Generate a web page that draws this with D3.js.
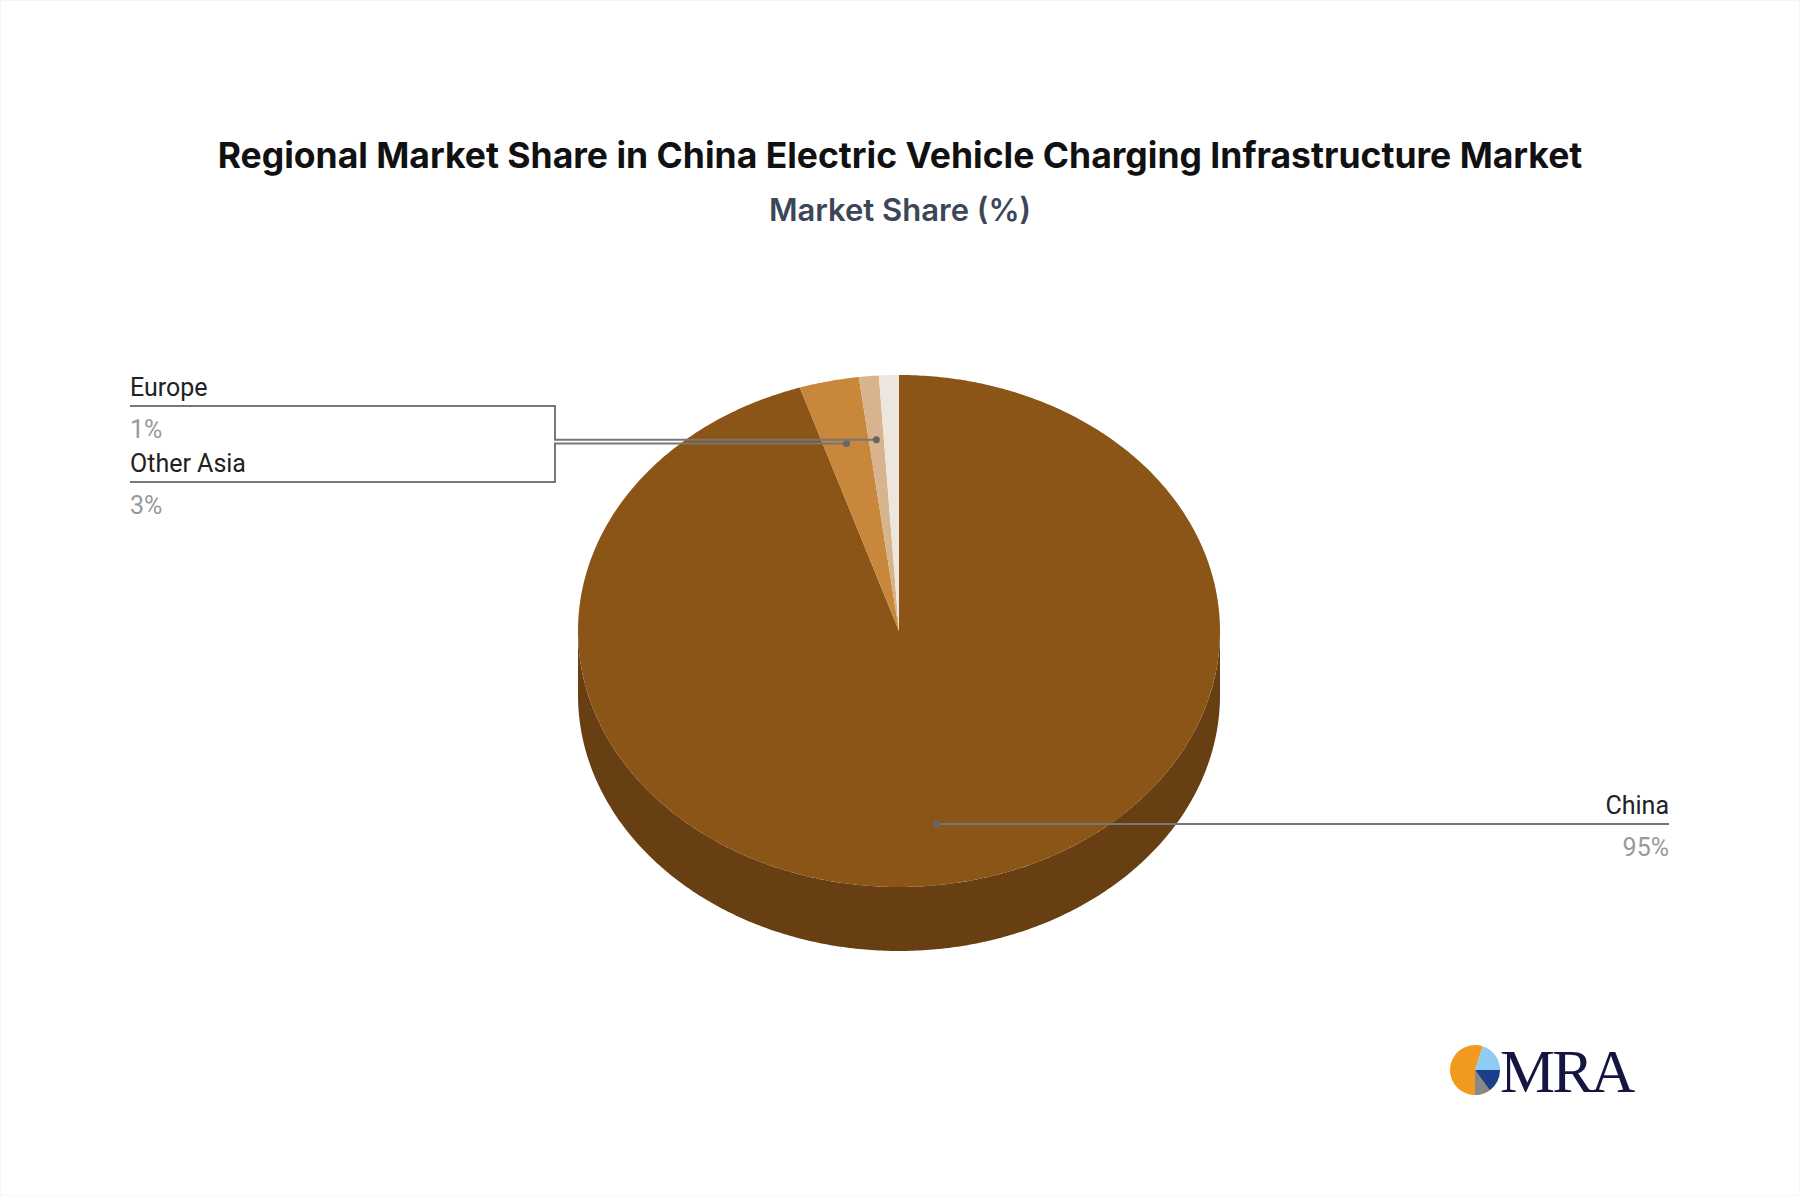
<!DOCTYPE html>
<html><head><meta charset="utf-8">
<script src="https://cdn.jsdelivr.net/npm/d3@7"></script>
<style>
body{margin:0;background:#fff;font-family:Inter,"Noto Sans",sans-serif}
svg{display:block}
</style></head><body>
<svg id="chart" width="1800" height="1196"></svg>
<script>
const regions = ['China', 'Other Asia', 'Europe', 'Rest of World'];
const shares = [95, 3, 1, 1];
const topColors = ['#8b5518', '#c8873a', '#d8b48e', '#ede6de'];
const sideColors = ['#673f12', '#96652b', '#a2876a', '#b2aca6'];
const labelled = ['China', 'Other Asia', 'Europe'];

const svg = d3.select('#chart');
const W = 1800, cx = 899, cy = 631, rx = 321, ry = 256, depth = 64;

svg.append('rect').attr('width', 1800).attr('height', 1196).attr('fill', '#fff')
  .attr('stroke', '#eee');

svg.append('text').attr('x', W / 2).attr('y', 168).attr('text-anchor', 'middle')
  .attr('font-size', 35.5).attr('font-weight', 700).attr('fill', '#111')
  .text('Regional Market Share in China Electric Vehicle Charging Infrastructure Market');
svg.append('text').attr('x', W / 2).attr('y', 221).attr('text-anchor', 'middle')
  .attr('font-size', 31).attr('font-weight', 600).attr('fill', '#3b4757')
  .text('Market Share (%)');

const data = regions.map((r, i) => ({ region: r, value: shares[i], i }));
const arcs = d3.pie().value(d => d.value).sort(null)(data);

const px = (a, f = 1) => cx + rx * f * Math.sin(a);
const py = (a, f = 1, dz = 0) => cy - ry * f * Math.cos(a) + dz;

function ellArc(p, a0, a1, dz) {
  const n = Math.max(2, Math.ceil(Math.abs(a1 - a0) / 0.01));
  for (let k = 0; k <= n; k++) {
    const a = a0 + (a1 - a0) * k / n;
    p.lineTo(px(a), py(a, 1, dz));
  }
}

// sides (front half only)
const gSide = svg.append('g');
arcs.forEach(d => {
  const a0 = Math.max(d.startAngle, Math.PI / 2), a1 = Math.min(d.endAngle, 3 * Math.PI / 2);
  if (a1 <= a0) return;
  const p = d3.path();
  p.moveTo(px(a0), py(a0));
  ellArc(p, a0, a1, 0);
  ellArc(p, a1, a0, depth);
  p.closePath();
  gSide.append('path').attr('d', p.toString()).attr('fill', sideColors[d.data.i]);
});

// tops
const gTop = svg.append('g');
arcs.forEach(d => {
  const p = d3.path();
  p.moveTo(cx, cy);
  ellArc(p, d.startAngle, d.endAngle, 0);
  p.closePath();
  gTop.append('path').attr('d', p.toString()).attr('fill', topColors[d.data.i]);
});

// labels
const labelPos = {
  'Europe': { side: 'left', y: 406, elbow: 555 },
  'Other Asia': { side: 'left', y: 482, elbow: 555 },
  'China': { side: 'right', y: 824 }
};
const gLab = svg.append('g');
arcs.filter(d => labelled.includes(d.data.region)).forEach(d => {
  const mid = (d.startAngle + d.endAngle) / 2;
  const ax = px(mid, 0.75), ay = py(mid, 0.75);
  const L = labelPos[d.data.region];
  let pts, tx, anchor;
  if (L.side === 'left') {
    tx = 130; anchor = 'start';
    pts = [[ax, ay], [L.elbow, ay], [L.elbow, L.y], [tx, L.y]];
  } else {
    tx = 1669; anchor = 'end';
    pts = [[ax, L.y], [tx, L.y]];
  }
  gLab.append('path').attr('d', d3.line()(pts)).attr('fill', 'none')
    .attr('stroke', '#777').attr('stroke-width', 2);
  gLab.append('circle').attr('cx', pts[0][0]).attr('cy', pts[0][1]).attr('r', 3.5).attr('fill', '#666');
  gLab.append('text').attr('x', tx).attr('y', L.y - 10).attr('text-anchor', anchor)
    .attr('font-size', 25).attr('fill', '#222').attr('font-family', 'Roboto, sans-serif')
    .text(d.data.region);
  gLab.append('text').attr('x', tx).attr('y', L.y + 32).attr('text-anchor', anchor)
    .attr('font-size', 25).attr('fill', '#999').attr('font-family', 'Roboto, sans-serif')
    .text(d.data.value + '%');
});

// logo
const lg = svg.append('g').attr('transform', 'translate(1475,1070)');
const logoArc = d3.arc().innerRadius(0).outerRadius(25);
const logoSlices = [[0.75 * Math.PI, 2.1 * Math.PI, '#f29a1f'], [0.1 * Math.PI, 0.5 * Math.PI, '#8ecdf0'],
  [0.5 * Math.PI, 0.8 * Math.PI, '#1b3f8b'], [0.8 * Math.PI, 1.0 * Math.PI, '#888']];
logoSlices.forEach(s => lg.append('path')
  .attr('d', logoArc({ startAngle: s[0], endAngle: s[1] })).attr('fill', s[2]));
svg.append('text').attr('x', 1500).attr('y', 1092).attr('font-family', 'Liberation Serif, serif')
  .attr('font-size', 62).attr('fill', '#14163f').attr('letter-spacing', -3).text('MRA');
</script>
</body></html>
